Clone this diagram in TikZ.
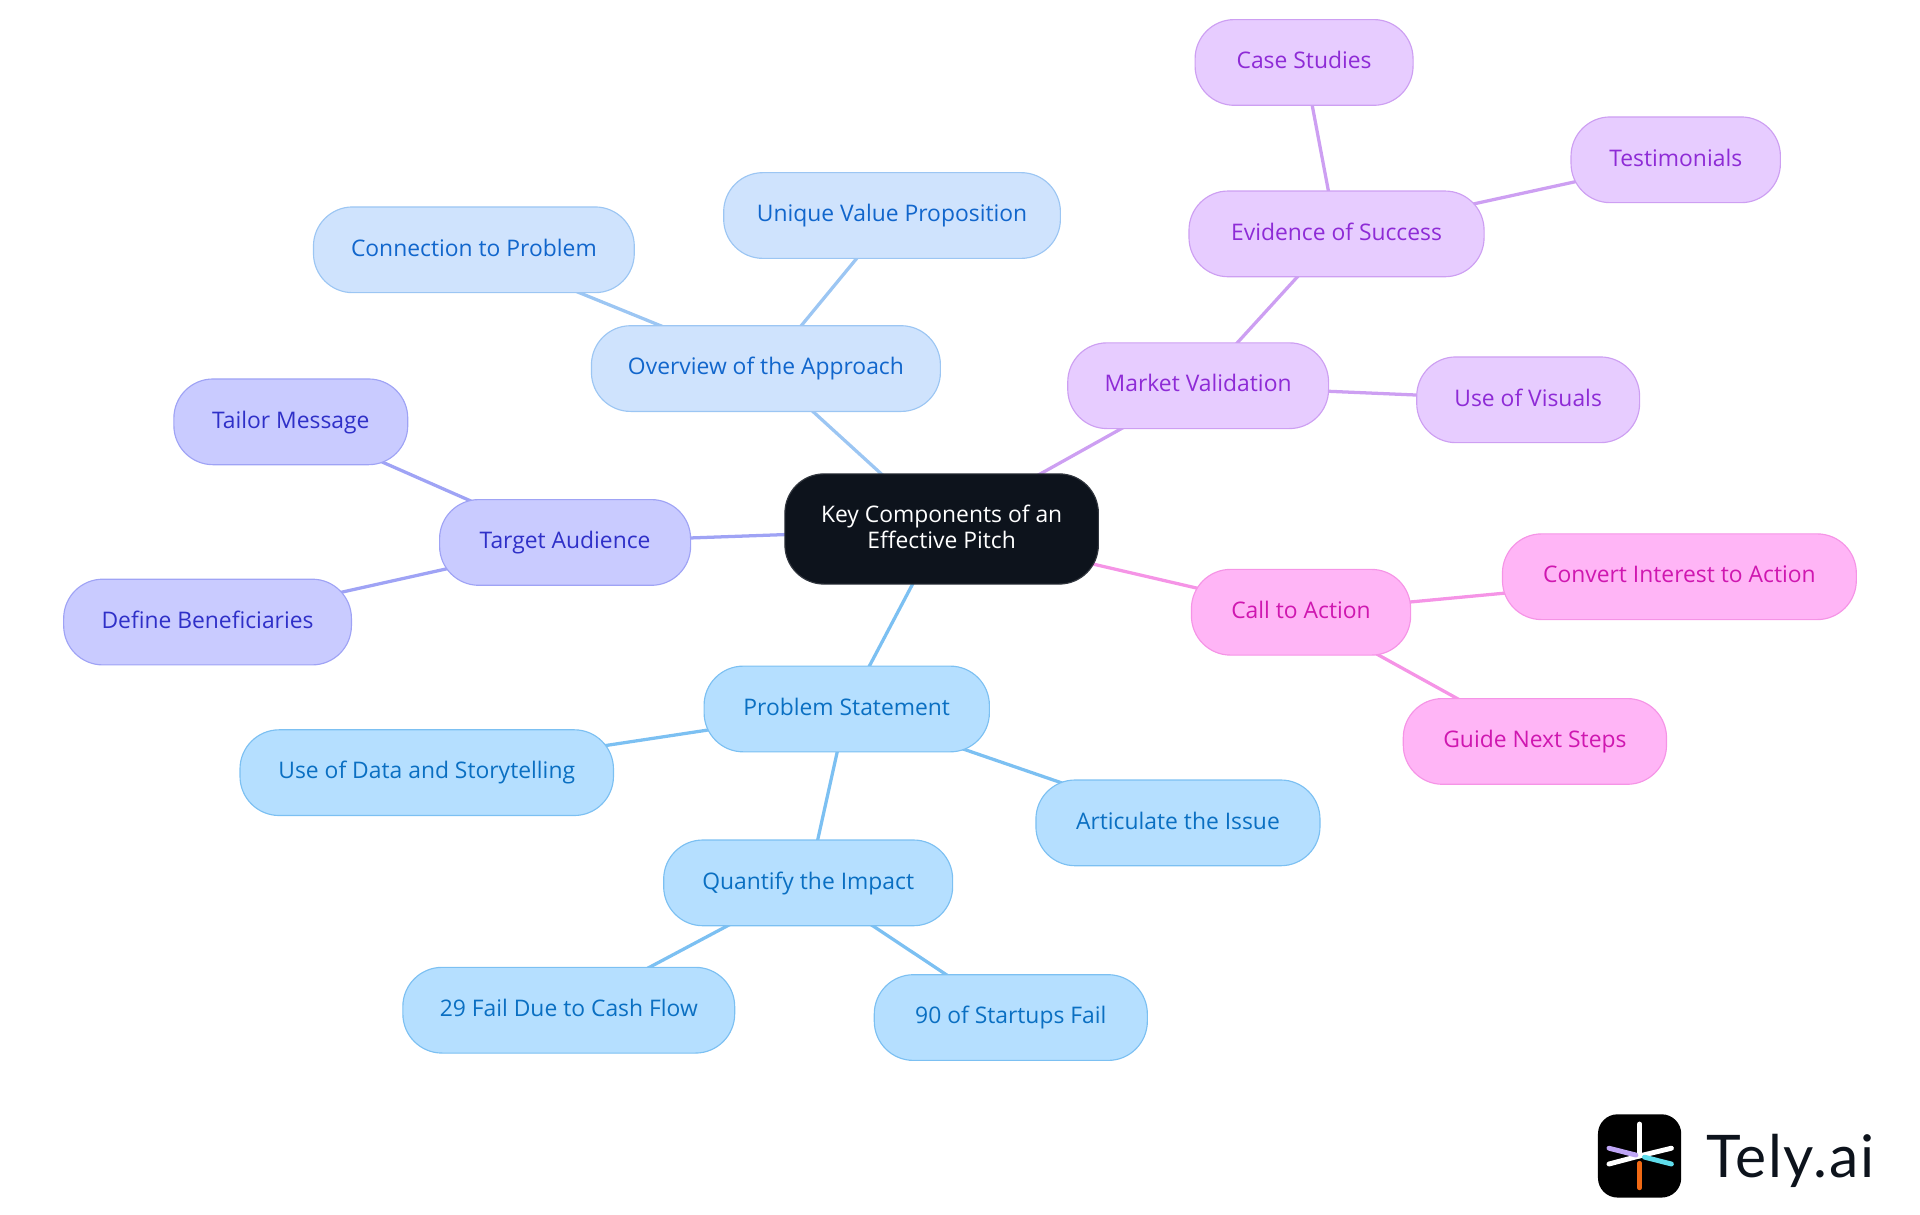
\documentclass[tikz,border=0pt]{standalone}
\usepackage{fontspec}
\setmainfont{Open Sans}
\newfontfamily\logofont[LetterSpace=3]{Lato}
\usetikzlibrary{backgrounds}
\definecolor{rootfill}{HTML}{0D131C}
\definecolor{overviewfill}{HTML}{CFE3FD}
\definecolor{overviewline}{HTML}{9CC6F3}
\definecolor{overviewtext}{HTML}{1166CC}
\definecolor{targetfill}{HTML}{C9CBFF}
\definecolor{targetline}{HTML}{9FA3F5}
\definecolor{targettext}{HTML}{2F30C8}
\definecolor{problemfill}{HTML}{B5DFFF}
\definecolor{problemline}{HTML}{7CC0F2}
\definecolor{problemtext}{HTML}{0A6FC2}
\definecolor{marketfill}{HTML}{E7CCFF}
\definecolor{marketline}{HTML}{CD9FF2}
\definecolor{markettext}{HTML}{8E2BD6}
\definecolor{actionfill}{HTML}{FFB5F6}
\definecolor{actionline}{HTML}{F594E6}
\definecolor{actiontext}{HTML}{CF17B0}
\tikzset{
    box/.style={rectangle,rounded corners=24pt,minimum height=52.5pt,inner sep=0pt,line width=0.7pt,align=center,font=\fontsize{14}{16}\selectfont},
    rootbox/.style={box,fill=rootfill,draw=rootfill!85!white,text=white,minimum height=67.5pt,text depth=3pt},
    leafbox/.style={box,text height=10.4pt,text depth=2.8pt},
    overviewbox/.style={leafbox,fill=overviewfill,draw=overviewline,text=overviewtext},
    targetbox/.style={leafbox,fill=targetfill,draw=targetline,text=targettext},
    problembox/.style={leafbox,fill=problemfill,draw=problemline,text=problemtext},
    marketbox/.style={leafbox,fill=marketfill,draw=marketline,text=markettext},
    actionbox/.style={leafbox,fill=actionfill,draw=actionline,text=actiontext},
    link/.style={line width=2pt},
    spoke/.style={line width=3pt,line cap=round},
}
\begin{document}
\begin{tikzpicture}[x=0.75pt,y=-0.75pt]
    \useasboundingbox (0,0) rectangle (1568,992.2);

    \node[rootbox,minimum width=192pt] (root) at (769,432) {Key Components of an\\Effective Pitch};

    \node[overviewbox,minimum width=213.75pt] (overview) at (625.5,301) {Overview of the Approach};
    \node[overviewbox,minimum width=206.25pt] (unique) at (728.5,176) {Unique Value Proposition};
    \node[overviewbox,minimum width=196.5pt] (connection) at (387,204) {Connection to Problem};

    \node[marketbox,minimum width=159.75pt] (market) at (978.5,315) {Market Validation};
    \node[marketbox,minimum width=180.75pt] (evidence) at (1091.5,191) {Evidence of Success};
    \node[marketbox,minimum width=133.5pt] (casestudies) at (1065,51) {Case Studies};
    \node[marketbox,minimum width=128.25pt] (testimonials) at (1368.5,130.5) {Testimonials};
    \node[marketbox,minimum width=136.5pt] (visuals) at (1248,326.5) {Use of Visuals};

    \node[targetbox,minimum width=153.75pt] (target) at (461.5,443) {Target Audience};
    \node[targetbox,minimum width=143.25pt] (tailor) at (237.5,344.5) {Tailor Message};
    \node[targetbox,minimum width=176.25pt] (beneficiaries) at (169.5,508) {Define Beneficiaries};

    \node[problembox,minimum width=174.75pt] (problem) at (691.5,579) {Problem Statement};
    \node[problembox,minimum width=228.75pt] (storytelling) at (348.5,631) {Use of Data and Storytelling};
    \node[problembox,minimum width=174pt] (articulate) at (962,672) {Articulate the Issue};
    \node[problembox,minimum width=177pt] (quantify) at (660,721) {Quantify the Impact};
    \node[problembox,minimum width=203.25pt] (cashflow) at (464.5,825) {29 Fail Due to Cash Flow};
    \node[problembox,minimum width=167.25pt] (startups) at (825.5,831) {90 of Startups Fail};

    \node[actionbox,minimum width=134.25pt] (action) at (1062.5,500) {Call to Action};
    \node[actionbox,minimum width=216.75pt] (convert) at (1371.5,471) {Convert Interest to Action};
    \node[actionbox,minimum width=161.25pt] (nextsteps) at (1253.5,605.5) {Guide Next Steps};

    \begin{scope}[on background layer]
        \draw[link,overviewline] (root.center) -- (overview.center);
        \draw[link,overviewline] (overview.center) -- (unique.center);
        \draw[link,overviewline] (overview.center) -- (connection.center);
        \draw[link,marketline] (root.center) -- (market.center);
        \draw[link,marketline] (market.center) -- (evidence.center);
        \draw[link,marketline] (market.center) -- (visuals.center);
        \draw[link,marketline] (evidence.center) -- (casestudies.center);
        \draw[link,marketline] (evidence.center) -- (testimonials.center);
        \draw[link,targetline] (root.center) -- (target.center);
        \draw[link,targetline] (target.center) -- (tailor.center);
        \draw[link,targetline] (target.center) -- (beneficiaries.center);
        \draw[link,problemline] (root.center) -- (problem.center);
        \draw[link,problemline] (problem.center) -- (storytelling.center);
        \draw[link,problemline] (problem.center) -- (articulate.center);
        \draw[link,problemline] (problem.center) -- (quantify.center);
        \draw[link,problemline] (quantify.center) -- (cashflow.center);
        \draw[link,problemline] (quantify.center) -- (startups.center);
        \draw[link,actionline] (root.center) -- (action.center);
        \draw[link,actionline] (action.center) -- (convert.center);
        \draw[link,actionline] (action.center) -- (nextsteps.center);
    \end{scope}

    % logo
    \node[rectangle,rounded corners=12pt,fill=black,minimum width=51pt,minimum height=51pt,inner sep=0pt] (logobox) at (1339,944) {};
    \coordinate (hub) at (1339,944);
    \draw[spoke,white] (hub) -- (1339,918);
    \draw[spoke,white] (hub) -- (1365,937.7);
    \draw[spoke,white] (hub) -- (1314,950.6);
    \draw[spoke,color={rgb,255:red,190;green,165;blue,245}] (1336,943.3) -- (1314,937.7);
    \draw[spoke,color={rgb,255:red,95;green,220;blue,235}] (1343,945) -- (1365,950.6);
    \draw[spoke,color={rgb,255:red,240;green,105;blue,20}] (1339,950) -- (1339,970);
    \node[anchor=base west,inner sep=0pt,text=rootfill,font=\logofont\fontsize{36}{36}\selectfont] (logotext) at (1393,962) {Tely.ai};
\end{tikzpicture}
\end{document}
